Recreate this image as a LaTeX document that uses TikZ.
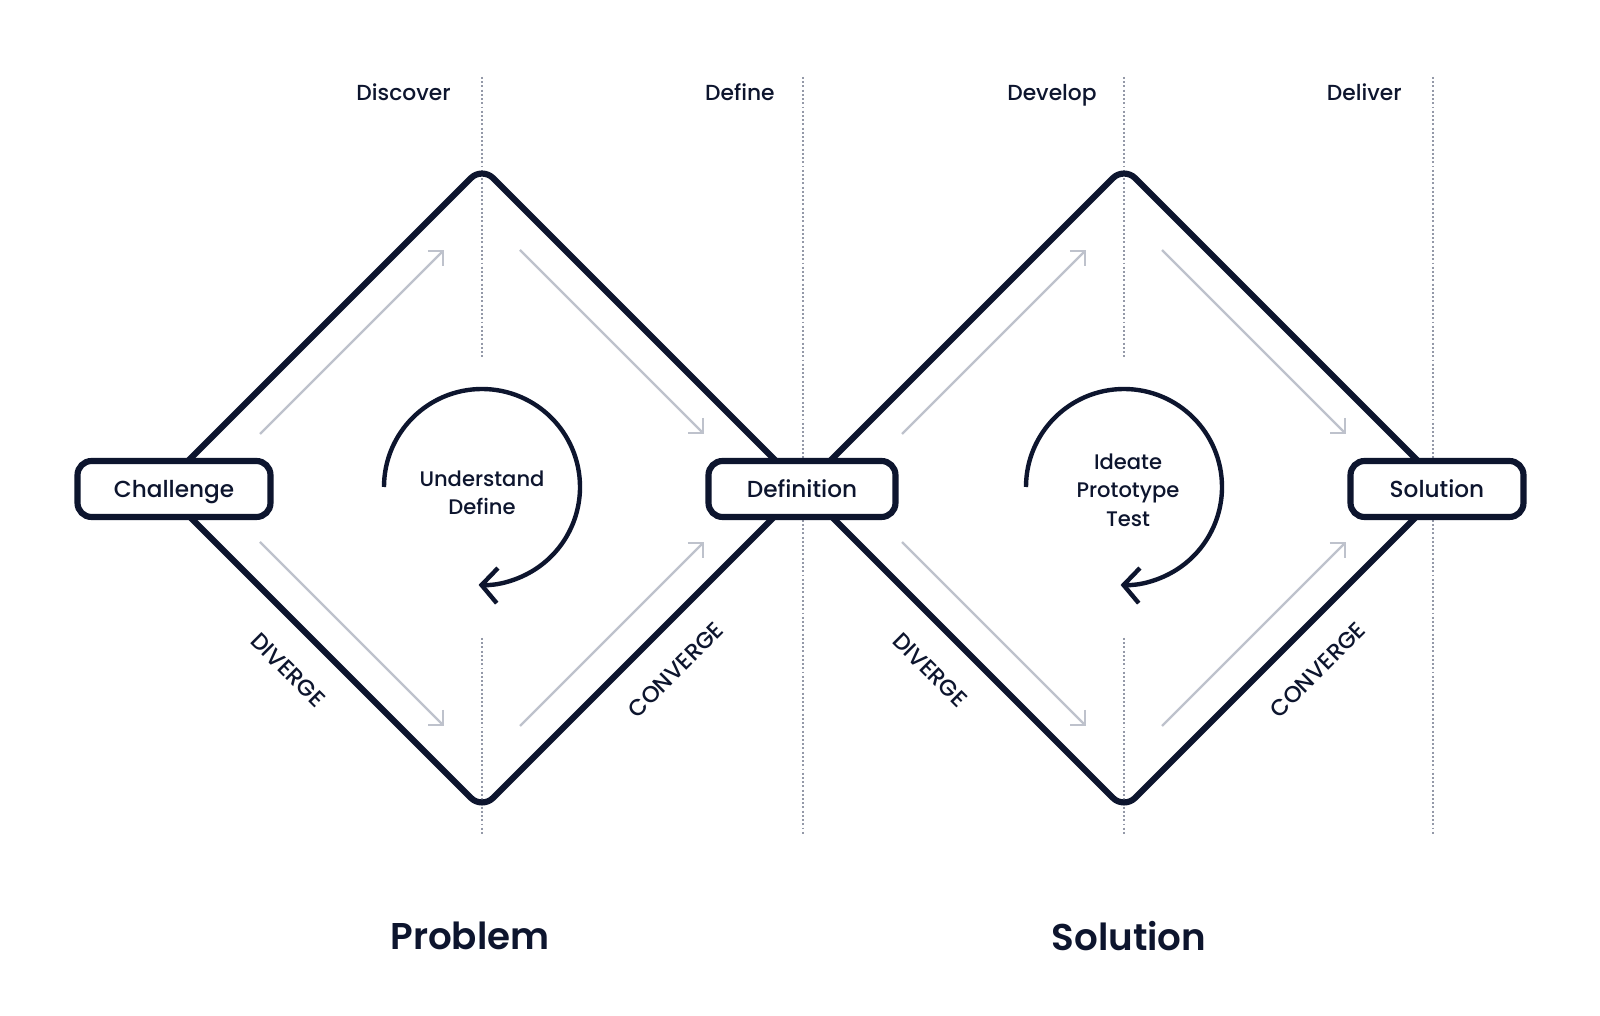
\documentclass[tikz,border=0pt]{standalone}
\usepackage{fontspec}
\setmainfont{Poppins}[UprightFont=* Medium, BoldFont=* SemiBold]
\usetikzlibrary{arrows.meta}

\definecolor{navy}{RGB}{13,21,46}
\definecolor{arrowgray}{RGB}{190,194,204}
\definecolor{dotgray}{RGB}{148,153,168}

\begin{document}
\begin{tikzpicture}[x=0.02cm, y=0.02cm,
		phase/.style={draw=navy, line width=3.5pt, rounded corners=8pt, fill=white, text=navy,
			font=\fontsize{13.2}{16}\selectfont, text height=9.4pt, text depth=0pt,
			minimum height=1.12cm, inner sep=0pt},
		edge/.style={navy, line width=3.5pt, rounded corners=9pt, line join=round},
		guide/.style={dotgray, line width=1.1pt, dash pattern=on 1.1pt off 1.3pt},
		flow/.style={arrowgray, line width=1.3pt, -{Straight Barb[length=6pt, width=12pt]}},
		loop/.style={navy, line width=2.5pt, -{Straight Barb[length=9pt, width=20pt]}},
		stage/.style={text=navy, font=\fontsize{12.4}{14}\selectfont, anchor=base east, inner sep=0pt},
		mode/.style={text=navy, font=\fontsize{13}{14}\selectfont},
		inner/.style={text=navy, align=center, font=\fontsize{12}{16.2}\selectfont},
		space/.style={text=navy, font=\fontsize{21.2}{26}\bfseries}]
		\useasboundingbox[fill=white] (0,0) rectangle (1600,1015);
		% dotted phase borders
		\foreach \x/\gap/\name in {803/28/Define, 1433/31/Deliver}
		{
			\draw[guide] (\x,938) -- (\x,180);
			\node[stage] (\name) at (\x-\gap,914) {\name};
		}
		\foreach \x/\gap/\name in {482/31/Discover, 1124/27/Develop}
		{
			\draw[guide] (\x,938) -- (\x,656);
			\draw[guide] (\x,377) -- (\x,180);
			\node[stage] (\name) at (\x-\gap,914) {\name};
		}
		% grey flow arrows inside the diamonds
		\foreach \cx in {482,1124}
		{
			\draw[flow] (\cx-222,581) -- (\cx-38,765);
			\draw[flow] (\cx+38,765) -- (\cx+222,581);
			\draw[flow] (\cx-222,473) -- (\cx-38,289);
			\draw[flow] (\cx+38,289) -- (\cx+222,473);
		}
		% the two diamonds
		\coordinate (l1) at (161,527);
		\coordinate (t1) at (482,848);
		\coordinate (r1) at (803,527);
		\coordinate (b1) at (482,206);
		\coordinate (t2) at (1124,848);
		\coordinate (r2) at (1445,527);
		\coordinate (b2) at (1124,206);
		\draw[edge] (l1) -- (t1) -- (r1) -- (b1) -- cycle;
		\draw[edge] (r1) -- (t2) -- (r2) -- (b2) -- cycle;
		% start, middle and end boxes
		\node[phase, minimum width=3.86cm] (challenge) at (174,526) {Challenge};
		\node[phase, minimum width=3.74cm] (definition) at (802,526) {Definition};
		\node[phase, minimum width=3.46cm] (solution) at (1437,526) {Solution};
		% iteration loops
		\coordinate (c1) at (482,528);
		\coordinate (c2) at (1124,528);
		\draw[loop] (c1) ++(180:98) arc[start angle=180, end angle=-92, radius=98];
		\draw[loop] (c2) ++(180:98) arc[start angle=180, end angle=-92, radius=98];
		\node[inner] (understand) at (482,522) {Understand\\Define};
		\node[inner] (ideate) at (1128,525) {Ideate\\Prototype\\Test};
		% labels along the edges
		\node[mode, rotate=-45] (div1) at (288,345) {DIVERGE};
		\node[mode, rotate=45] (con1) at (676,345) {CONVERGE};
		\node[mode, rotate=-45] (div2) at (930,345) {DIVERGE};
		\node[mode, rotate=45] (con2) at (1318,345) {CONVERGE};
		% problem and solution space
		\node[space] (problem) at (470,79) {Problem};
		\node[space] (solspace) at (1129,79) {Solution};
	\end{tikzpicture}
\end{document}
